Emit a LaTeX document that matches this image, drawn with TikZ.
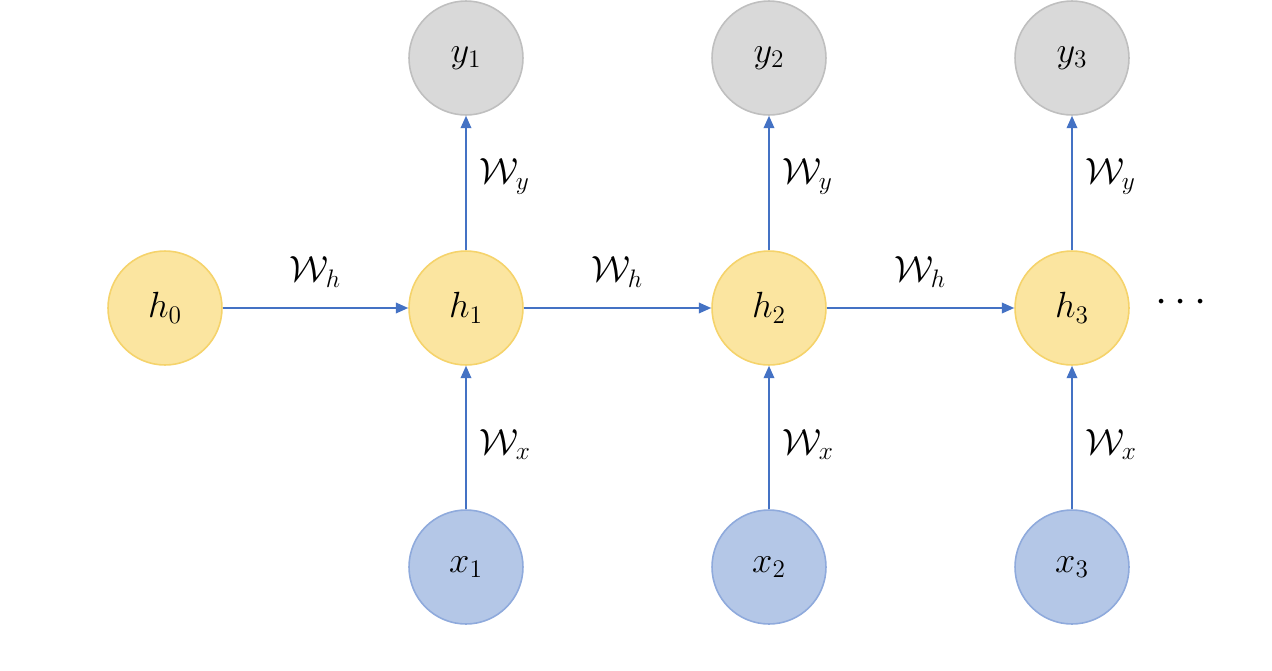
\documentclass[tikz,border=0pt]{standalone}
\usetikzlibrary{arrows.meta}
\definecolor{hf}{HTML}{FBE5A0}\definecolor{hd}{HTML}{F5D36B}
\definecolor{gf}{HTML}{D9D9D9}\definecolor{gd}{HTML}{BFBFBF}
\definecolor{bf}{HTML}{B4C7E7}\definecolor{bd}{HTML}{8FAADC}
\definecolor{ar}{HTML}{4472C4}
\begin{document}
\begin{tikzpicture}[x=0.02cm,y=-0.02cm,
 nd/.style={circle,minimum size=2.28cm,inner sep=0pt,line width=0.9pt,font=\fontsize{20}{24}\selectfont},
 hn/.style={nd,fill=hf,draw=hd},
 yn/.style={nd,fill=gf,draw=gd},
 xn/.style={nd,fill=bf,draw=bd},
 ed/.style={draw=ar,line width=1pt,-{Triangle[length=7pt,width=6pt]}},
 lb/.style={font=\fontsize{20}{24}\selectfont}]
\useasboundingbox (0,0) rectangle (1272,670);
\node[hn] (h0) at (165,308) {$h_0$};
\foreach \i/\x in {1/466,2/769,3/1072}{
 \node[hn] (h\i) at (\x,308) {$h_\i$};
 \node[yn] (y\i) at (\x,58) {$y_\i$};
 \node[xn] (x\i) at (\x,567) {$x_\i$};
 \draw[ed] (h\i) -- (y\i) node[lb,pos=0.55,right=4pt] {$\mathcal{W}_y$};
 \draw[ed] (x\i) -- (h\i) node[lb,pos=0.45,right=4pt] {$\mathcal{W}_x$};
}
\draw[ed] (h0) -- (h1) node[lb,midway,above=8pt] {$\mathcal{W}_h$};
\draw[ed] (h1) -- (h2) node[lb,midway,above=8pt] {$\mathcal{W}_h$};
\draw[ed] (h2) -- (h3) node[lb,midway,above=8pt] {$\mathcal{W}_h$};
\node[font=\fontsize{28}{30}\selectfont\bfseries] (dots) at (1181,303) {$\cdots$};
\end{tikzpicture}
\end{document}
